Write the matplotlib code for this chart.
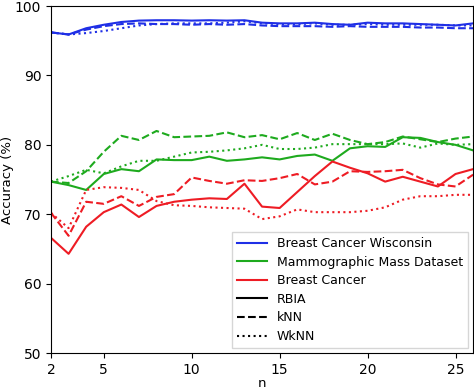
import matplotlib
matplotlib.use("Agg")
import matplotlib.pyplot as plt
from matplotlib.lines import Line2D

n = list(range(2, 27))

# Breast Cancer Wisconsin (blue)
bcw_rbia = [96.2, 95.9, 96.8, 97.3, 97.7, 97.9, 97.95, 97.95, 97.9, 97.95, 97.9, 97.95, 97.6,
            97.5, 97.5, 97.6, 97.4, 97.3, 97.6, 97.5, 97.5, 97.4, 97.3, 97.2, 97.5]
bcw_knn = [96.2, 95.9, 96.6, 97.1, 97.4, 97.5, 97.4, 97.4, 97.3, 97.4, 97.3, 97.4, 97.2,
           97.1, 97.1, 97.1, 97.0, 97.1, 97.0, 97.0, 97.0, 96.9, 96.9, 96.8, 96.8]
bcw_wknn = [96.2, 95.9, 96.1, 96.4, 96.8, 97.2, 97.4, 97.5, 97.5, 97.5, 97.6, 97.8, 97.5,
            97.4, 97.4, 97.5, 97.3, 97.3, 97.4, 97.3, 97.3, 97.3, 97.3, 97.2, 97.2]

# Mammographic Mass Dataset (green)
mm_rbia = [74.7, 74.2, 73.5, 75.8, 76.5, 76.2, 77.9, 77.8, 77.8, 78.3, 77.7, 77.9, 78.2,
           77.9, 78.4, 78.6, 77.7, 79.5, 79.8, 79.7, 81.1, 81.0, 80.4, 80.0, 79.2]
mm_knn = [74.7, 74.5, 76.2, 79.0, 81.3, 80.7, 82.0, 81.1, 81.2, 81.3, 81.8, 81.1, 81.4,
          80.8, 81.7, 80.7, 81.6, 80.7, 80.1, 80.4, 81.2, 80.8, 80.4, 80.9, 81.2]
mm_wknn = [74.7, 75.5, 76.4, 75.9, 76.9, 77.7, 77.7, 78.3, 78.9, 79.0, 79.2, 79.5, 80.0,
           79.4, 79.4, 79.6, 80.1, 80.1, 80.1, 80.1, 80.2, 79.6, 80.2, 80.0, 80.1]

# Breast Cancer (red)
bc_rbia = [66.6, 64.3, 68.2, 70.3, 71.4, 69.6, 71.2, 71.8, 72.1, 72.3, 72.2, 74.4, 71.1,
           70.9, 73.2, 75.5, 77.6, 76.7, 75.9, 74.7, 75.4, 74.7, 74.0, 75.8, 76.5]
bc_knn = [70.2, 66.9, 71.8, 71.5, 72.6, 71.2, 72.5, 72.9, 75.3, 74.8, 74.4, 74.9, 74.8,
          75.2, 75.8, 74.3, 74.7, 76.2, 76.1, 76.2, 76.4, 75.2, 74.3, 74.0, 75.7]
bc_wknn = [70.2, 68.0, 73.5, 73.9, 73.8, 73.5, 71.9, 71.3, 71.2, 71.0, 70.9, 70.8, 69.3,
           69.7, 70.7, 70.3, 70.3, 70.3, 70.5, 71.0, 72.1, 72.6, 72.6, 72.8, 72.8]

datasets = ["Breast Cancer Wisconsin", "Mammographic Mass Dataset", "Breast Cancer"]
methods = ["RBIA", "kNN", "WkNN"]
colors = ["#1f2fe6", "#1eaa1e", "#ee1c24"]
styles = ["-", "--", ":"]

series = [
    [bcw_rbia, bcw_knn, bcw_wknn],
    [mm_rbia, mm_knn, mm_wknn],
    [bc_rbia, bc_knn, bc_wknn],
]

fig = plt.figure(figsize=(4.74, 3.91), dpi=100)
ax = fig.add_axes([0.1076, 0.0970, 0.8905, 0.8876])

for ci, ds in enumerate(series):
    for si, vals in enumerate(ds):
        ax.plot(n, vals, color=colors[ci], linestyle=styles[si], linewidth=1.5)

ax.set_xlim(2, 26)
ax.set_ylim(50, 100)
ax.set_xticks([2, 5, 10, 15, 20, 25])
ax.set_yticks([50, 60, 70, 80, 90, 100])
ax.set_xlabel("n", fontsize=9.5, labelpad=0)
ax.set_ylabel("Accuracy (%)", fontsize=9.5, labelpad=1)
ax.tick_params(labelsize=10)

handles = [Line2D([], [], color=c, linestyle="-", linewidth=1.5) for c in colors]
handles += [Line2D([], [], color="black", linestyle=s, linewidth=1.5) for s in styles]
labels = datasets + methods
ax.legend(handles, labels, loc="lower right", fontsize=9, frameon=True,
          fancybox=False, edgecolor="#cccccc", handlelength=2.4, labelspacing=0.45,
          borderaxespad=0.4)

fig.savefig("out.png", dpi=100)
